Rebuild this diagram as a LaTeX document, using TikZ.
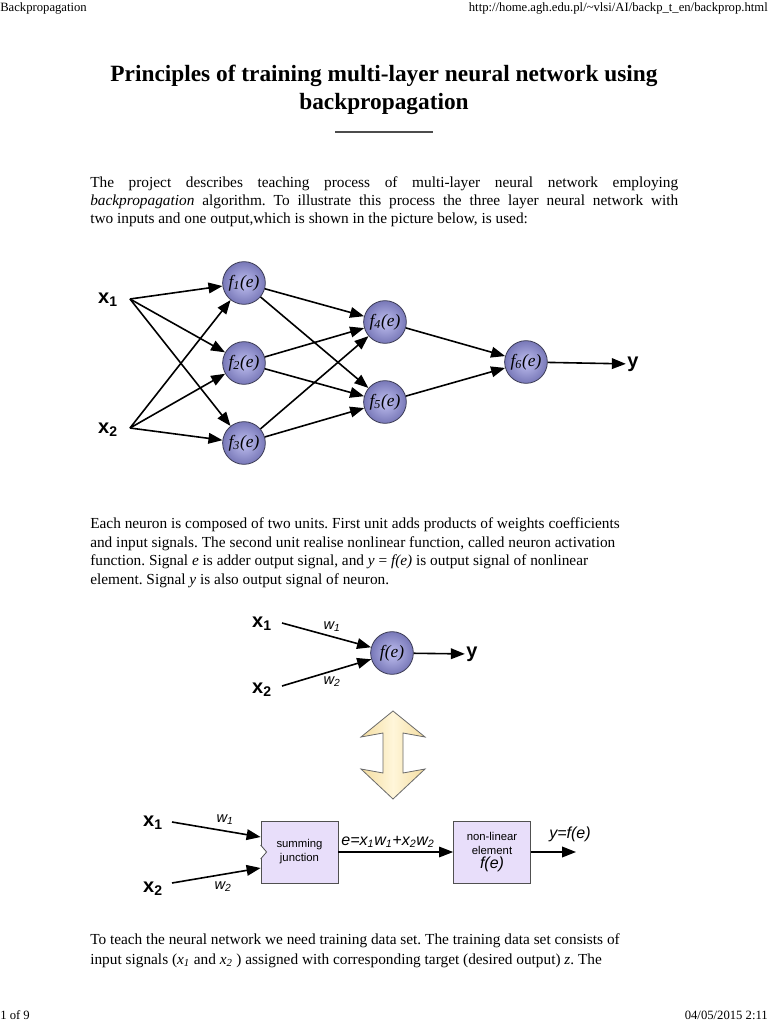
\documentclass[tikz,border=0pt]{standalone}
\usepackage{fontspec}
\setmainfont{Liberation Serif}
\setsansfont{Liberation Sans}
\usetikzlibrary{positioning,calc,arrows.meta}
\definecolor{neuronlight}{HTML}{C0C0F0}
\definecolor{neurondark}{HTML}{7878B8}
\definecolor{neuronedge}{HTML}{3C3C55}
\definecolor{blockfill}{HTML}{E8DEFA}
\definecolor{blockedge}{HTML}{505050}
\definecolor{swaplight}{HTML}{FFF6DA}
\definecolor{swapdark}{HTML}{F4DDA0}
\definecolor{swapedge}{HTML}{6A6A6A}
\frenchspacing

\begin{document}
\begin{tikzpicture}[
  x=0.75pt, y=-0.75pt,
  >={Triangle[length=10.5pt,width=8pt]},
  neuron/.style={
    circle, minimum size=32pt, inner sep=0pt,
    draw=neuronedge, line width=0.6pt,
    inner color=neuronlight, outer color=neurondark,
    font=\fontsize{13}{13}\selectfont,
  },
  signal/.style={font=\sffamily\bfseries\fontsize{15}{15}\selectfont, inner sep=1pt},
  weight/.style={font=\sffamily\itshape\fontsize{11}{11}\selectfont, inner sep=1pt},
  link/.style={->, line width=1.2pt},
  block/.style={
    draw=blockedge, fill=blockfill, line width=0.6pt,
    minimum width=57.75pt, minimum height=46.5pt,
    align=center, font=\sffamily\fontsize{8.5}{10.5}\selectfont,
  },
  para/.style={anchor=north west, inner sep=0pt, font=\fontsize{11.5}{14.2}\selectfont},
  pagenote/.style={inner sep=0pt, font=\fontsize{9.5}{10}\selectfont},
]
\def\flabel#1{{\itshape f\textsubscript{#1}(e)}}

% --- page -----------------------------------------------------------
\fill[white] (0,0) rectangle (768,1024);
\useasboundingbox (0,0) rectangle (768,1024);

\node[pagenote, anchor=north west] (head) at (0,2) {Backpropagation};
\node[pagenote, anchor=north east] (url) at (768,2) {http://home.agh.edu.pl/\textasciitilde vlsi/AI/backp\_t\_en/backprop.html};
\node[pagenote, anchor=south west] (pgno) at (0,1020) {1 of 9};
\node[pagenote, anchor=south east] (date) at (768,1020) {04/05/2015 2:11};

% --- title ----------------------------------------------------------
\node[align=center, inner sep=0pt, font=\bfseries\fontsize{17.5}{21}\selectfont] (title) at (384,90)
  {Principles of training multi-layer neural network using\\backpropagation};
\draw[line width=0.8pt, black!70] (335,132) -- (433,132);

% --- text -----------------------------------------------------------
\node[para, text width=441pt, align=justify, font=\fontsize{11.5}{13.6}\selectfont] (p1) at (90,176) {%
  The project describes teaching process of multi-layer neural network employing\linebreak
  \textit{backpropagation} algorithm. To illustrate this process the three layer neural network with\linebreak
  two inputs and one output,which is shown in the picture below, is used:};

\node[para, align=left] (p2) at (90,517) {%
  Each neuron is composed of two units. First unit adds products of weights coefficients\\
  and input signals. The second unit realise nonlinear function, called neuron activation\\
  function. Signal \textit{e} is adder output signal, and \textit{y} = \textit{f(e)} is output signal of nonlinear\\
  element. Signal \textit{y} is also output signal of neuron.};

\node[para, align=left, font=\fontsize{11.5}{15.2}\selectfont] (p3) at (90,933) {%
  To teach the neural network we need training data set. The training data set consists of\\
  input signals (\textit{x\textsubscript{1}} and \textit{x\textsubscript{2}} ) assigned with corresponding target (desired output) \textit{z}. The};

% --- network --------------------------------------------------------
\node[signal] (x1) at (108,300) {x\textsubscript{1}};
\node[signal] (x2) at (108,430) {x\textsubscript{2}};
\coordinate (x1o) at (130,299);
\coordinate (x2o) at (130,428);

\node[neuron] (f1) at (244,283) {\flabel{1}};
\node[neuron] (f2) at (244,363) {\flabel{2}};
\node[neuron] (f3) at (244,443) {\flabel{3}};
\node[neuron] (f4) at (385,322) {\flabel{4}};
\node[neuron] (f5) at (385,402) {\flabel{5}};
\node[neuron] (f6) at (526,362) {\flabel{6}};
\node[signal] (y) at (633,364) {y};

\foreach \n in {f1,f2,f3} {
  \draw[link] (x1o) -- (\n);
  \draw[link] (x2o) -- (\n);
  \draw[link] (\n) -- (f4);
  \draw[link] (\n) -- (f5);
}
\draw[link] (f4) -- (f6);
\draw[link] (f5) -- (f6);
\draw[link] (f6) -- (y);

% --- single neuron --------------------------------------------------
\node[signal] (nx1) at (262,624) {x\textsubscript{1}};
\node[signal] (nx2) at (262,690) {x\textsubscript{2}};
\coordinate (nx1o) at (282,623);
\coordinate (nx2o) at (282,686);
\node[neuron] (fe) at (392,653) {\itshape f(e)};
\node[signal] (ny) at (472,654) {y};
\node[weight] (nw1) at (332,627) {w\textsubscript{1}};
\node[weight] (nw2) at (332,682) {w\textsubscript{2}};

\draw[link] (nx1o) -- (fe);
\draw[link] (nx2o) -- (fe);
\draw[link] (fe) -- (ny);

% --- equivalence arrow ----------------------------------------------
\draw[draw=swapedge, line width=0.6pt, left color=swapdark, right color=swapdark, middle color=swaplight]
  (393,711) -- (425,737) -- (403,733) -- (403,773) -- (425,769) -- (393,799)
  -- (361,769) -- (383,773) -- (383,733) -- (361,737) -- cycle;

% --- block model ----------------------------------------------------
\node[signal] (bx1) at (153,823) {x\textsubscript{1}};
\node[signal] (bx2) at (153,889) {x\textsubscript{2}};
\coordinate (bx1o) at (172,822);
\coordinate (bx2o) at (172,883);

\node[block] (sum) at (299.5,852) {summing\\junction};
\fill[white] ($(sum.west)+(-1,-8)$) -- ($(sum.west)+(6,0)$) -- ($(sum.west)+(-1,8)$) -- cycle;
\draw[draw=blockedge, line width=0.6pt] ($(sum.west)+(0,-7)$) -- ($(sum.west)+(6,0)$) -- ($(sum.west)+(0,7)$);

\node[block] (nle) at (492,852)
  {non-linear\\element\\{\itshape\fontsize{12}{13}\selectfont f(e)}};

\coordinate (bx1t) at ($(sum.west)+(0,-15)$);
\coordinate (bx2t) at ($(sum.west)+(0,16)$);
\coordinate (bout) at (576,852);

\draw[link] (bx1o) -- (bx1t);
\draw[link] (bx2o) -- (bx2t);
\draw[->, line width=0.8pt] (sum) -- (nle);
\draw[link] (nle) -- (bout);

\node[weight] (bw1) at (225,820) {w\textsubscript{1}};
\node[weight] (bw2) at (223,887) {w\textsubscript{2}};
\node[weight, font=\sffamily\itshape\fontsize{12}{12}\selectfont] (esum) at (388,842)
  {e=x\textsubscript{1}w\textsubscript{1}+x\textsubscript{2}w\textsubscript{2}};
\node[weight, font=\sffamily\itshape\fontsize{12}{12}\selectfont] (yout) at (570,834) {y=f(e)};

\end{tikzpicture}
\end{document}
